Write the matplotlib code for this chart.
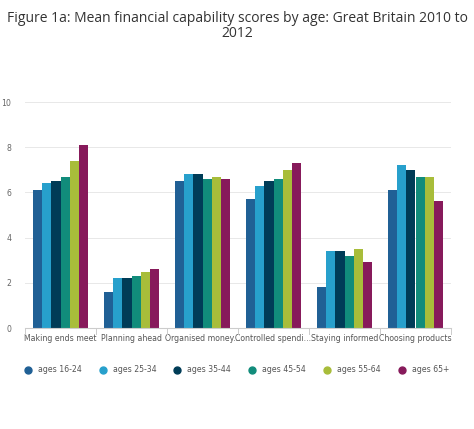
import matplotlib.pyplot as plt
from matplotlib.lines import Line2D
import numpy as np

categories = ["Making ends meet", "Planning ahead", "Organised money...", "Controlled spendi...", "Staying informed", "Choosing products"]
series = ["ages 16-24", "ages 25-34", "ages 35-44", "ages 45-54", "ages 55-64", "ages 65+"]
values = [
    [6.1, 1.6, 6.5, 5.7, 1.8, 6.1],
    [6.4, 2.2, 6.8, 6.3, 3.4, 7.2],
    [6.5, 2.2, 6.8, 6.5, 3.4, 7.0],
    [6.7, 2.3, 6.6, 6.6, 3.2, 6.7],
    [7.4, 2.5, 6.7, 7.0, 3.5, 6.7],
    [8.1, 2.6, 6.6, 7.3, 2.9, 5.6],
]
colors = ["#206095", "#27a0cc", "#003c57", "#118c7b", "#a8bd3a", "#871a5b"]

fig = plt.figure(figsize=(4.74, 4.29), dpi=100)
ax = fig.add_axes([25/474, 1-328/429, 426/474, 226/429])
x = np.arange(len(categories))
w = 0.13
for i, (s, v, c) in enumerate(zip(series, values, colors)):
    ax.bar(x + (i - 2.5) * w, v, w, color=c, label=s)
ax.set_xlim(-0.5, len(categories) - 0.5)
ax.set_ylim(0, 10)
ax.set_yticks([0, 2, 4, 6, 8, 10])
ax.set_xticks(x)
ax.set_xticklabels(categories, fontsize=5.6, color="#555555")
ax.tick_params(axis="y", labelsize=5.6, colors="#666666", length=0, pad=10)
ax.tick_params(axis="x", length=0, pad=4)
ax.grid(axis="y", color="#e8e8e8", linewidth=0.7)
ax.set_axisbelow(True)
for sp in ["top", "right", "left"]:
    ax.spines[sp].set_visible(False)
ax.spines["bottom"].set_color("#cccccc")
for b in np.arange(-0.5, len(categories), 1.0):
    ax.plot([b, b], [0, -0.25], color="#cccccc", lw=0.7, clip_on=False)
fig.text(0.5, 0.975, "Figure 1a: Mean financial capability scores by age: Great Britain 2010 to\n2012",
         ha="center", va="top", fontsize=10, color="#333333", family="Open Sans", linespacing=1.0)
handles = [Line2D([], [], marker="o", ls="", color=c, markersize=5) for c in colors]
fig.legend(handles, series, loc="center", bbox_to_anchor=(0.5, 1-370/429), ncol=6, frameon=False,
           fontsize=5.6, handlelength=0.8, columnspacing=2.3,
           labelcolor="#555555", handletextpad=0.9)
fig.savefig("out.png", dpi=100)
